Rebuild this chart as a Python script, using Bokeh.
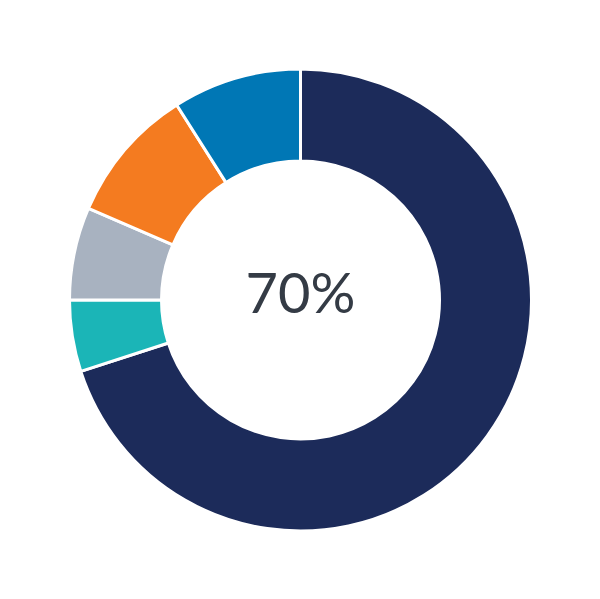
import math
from bokeh.plotting import figure
from bokeh.models import Range1d, ColumnDataSource
from bokeh.embed import file_html
from bokeh.resources import INLINE
from bokeh.core.properties import value

categories = ["A", "B", "C", "D", "E"]
values = [70, 5, 6.5, 9.5, 9]
colors = ["#1c2b5a", "#1bb5b7", "#a8b2c0", "#f47b20", "#0077b5"]
center_label = "70%"

W, H = 584, 583
cx, cy = 300, H - 299.5
r_out, r_in = 231, 139

total = sum(values)
starts, ends = [], []
acc = 0.0
for v in values:
    a0 = math.pi / 2 - 2 * math.pi * acc / total
    acc += v
    a1 = math.pi / 2 - 2 * math.pi * acc / total
    starts.append(a0)
    ends.append(a1)

src = ColumnDataSource(dict(cat=categories, val=values, color=colors,
                            start=starts, end=ends))

p = figure(width=W, height=H, output_backend="svg", toolbar_location=None,
           x_range=Range1d(0, W), y_range=Range1d(0, H), min_border=0,
           match_aspect=False)
p.axis.visible = False
p.grid.visible = False
p.outline_line_color = None
p.background_fill_color = "white"
p.border_fill_color = "white"

p.annular_wedge(x=cx, y=cy, inner_radius=r_in, outer_radius=r_out,
                start_angle="start", end_angle="end", direction="clock",
                fill_color="color", line_color="white", line_width=3,
                source=src)

p.text(x=[cx], y=[cy + 9], text=[center_label], text_align="center",
       text_baseline="middle", text_font=value("Lato"),
       text_font_size="56px", text_color="#343b45", text_font_style="normal")

open("out.html", "w").write(file_html(p, INLINE))
